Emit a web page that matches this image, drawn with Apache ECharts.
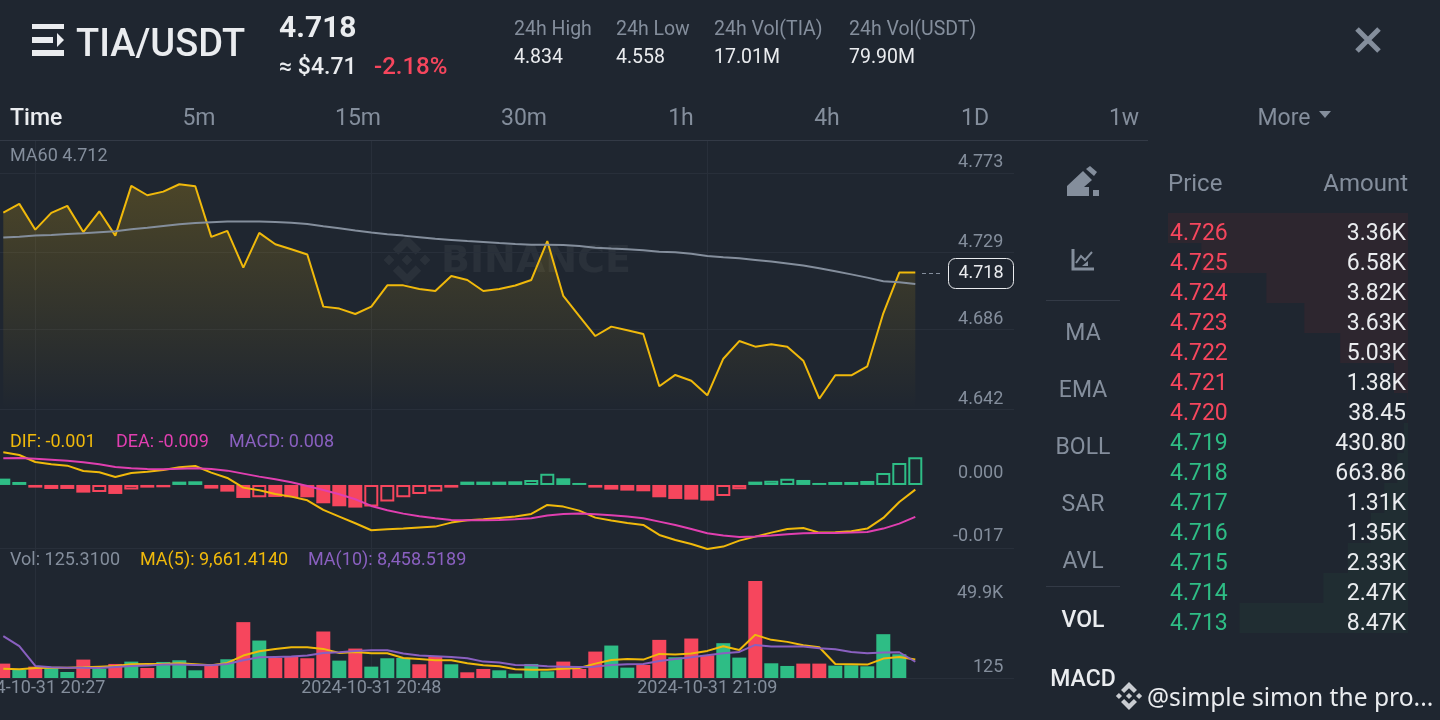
<!DOCTYPE html>
<html>
<head>
<meta charset="utf-8">
<title>TIA/USDT</title>
<script src="https://cdn.jsdelivr.net/npm/echarts@6/dist/echarts.min.js"></script>
<style>
html, body { margin: 0; padding: 0; background: #1f2630; overflow: hidden; }
#page { position: relative; width: 1440px; height: 720px; overflow: hidden; font-family: Roboto, sans-serif; }
#chart { position: absolute; left: 0; top: 0; width: 1440px; height: 720px; }
#icons { position: absolute; left: 0; top: 0; }
.t { position: absolute; white-space: nowrap; line-height: 1; transform: translateY(-50%); }
</style>
</head>
<body>
<div id="page">
  <div id="chart"></div>
  <svg id="icons" width="1440" height="720">
    <g fill="#eaecef">
      <rect x="32" y="24" width="32" height="5"/>
      <rect x="32" y="37" width="21" height="6"/>
      <polygon points="57,33 64,40 57,47"/>
      <rect x="32" y="50" width="32" height="6"/>
    </g>
    <path d="M1357,29 L1379,51 M1379,29 L1357,51" stroke="#848e9c" stroke-width="5"/>
    <polygon points="1319,111 1331,111 1325,118" fill="#848e9c"/>
    <g fill="#848e9c">
      <polygon points="1067,196 1067,186 1083,171 1092,180 1084,187 1089,187 1089,196"/>
      <polygon points="1086,169 1090,166 1097,172 1094,176"/>
      <rect x="1093" y="190" width="6" height="6"/>
    </g>
    <g fill="none" stroke="#848e9c">
      <path d="M1073,249 V269 H1094" stroke-width="3"/>
      <path d="M1076,263 L1081,256 L1085,260 L1092,252" stroke-width="2"/>
    </g>
    <polygon points="1082,266 1088,261 1088,266" fill="#848e9c"/>
    <g stroke="#333a46" stroke-width="1">
      <line x1="0" y1="140.5" x2="1148" y2="140.5"/>
      <line x1="1046" y1="300.5" x2="1120" y2="300.5"/>
      <line x1="1046" y1="586.5" x2="1120" y2="586.5"/>
    </g>
  </svg>
</div>
<script>
var priceLine = [4.7510, 4.7558, 4.7415, 4.7508, 4.7547, 4.7402, 4.7517, 4.7382, 4.7658, 4.7606, 4.7626, 4.7667, 4.7656, 4.7375, 4.7408, 4.7204, 4.7397, 4.7334, 4.7306, 4.7277, 4.6988, 4.6977, 4.6947, 4.6988, 4.7106, 4.7106, 4.7086, 4.7075, 4.7158, 4.7136, 4.7075, 4.7086, 4.7105, 4.7136, 4.7352, 4.7047, 4.6936, 4.6825, 4.6877, 4.6857, 4.6836, 4.6546, 4.6609, 4.6577, 4.6496, 4.6699, 4.6797, 4.6766, 4.6779, 4.6766, 4.6688, 4.6477, 4.6607, 4.6607, 4.6657, 4.6951, 4.7177, 4.7177];
var ma60 = [4.7371, 4.7376, 4.7382, 4.7386, 4.7391, 4.7395, 4.7401, 4.7406, 4.7417, 4.7426, 4.7436, 4.7445, 4.7452, 4.7456, 4.7460, 4.7460, 4.7460, 4.7458, 4.7454, 4.7447, 4.7434, 4.7423, 4.7410, 4.7399, 4.7389, 4.7382, 4.7373, 4.7364, 4.7358, 4.7352, 4.7347, 4.7341, 4.7336, 4.7332, 4.7332, 4.7330, 4.7325, 4.7315, 4.7310, 4.7306, 4.7301, 4.7293, 4.7290, 4.7282, 4.7269, 4.7262, 4.7256, 4.7247, 4.7238, 4.7227, 4.7216, 4.7201, 4.7184, 4.7167, 4.7149, 4.7129, 4.7123, 4.7114];
var dif = [0.00882, 0.00810, 0.00621, 0.00558, 0.00522, 0.00378, 0.00342, 0.00216, 0.00324, 0.00360, 0.00405, 0.00477, 0.00513, 0.00333, 0.00189, -0.00072, -0.00144, -0.00243, -0.00315, -0.00414, -0.00675, -0.00855, -0.01035, -0.01224, -0.01197, -0.01179, -0.01152, -0.01125, -0.01017, -0.00954, -0.00927, -0.00891, -0.00855, -0.00783, -0.00540, -0.00585, -0.00693, -0.00882, -0.00963, -0.01026, -0.01080, -0.01350, -0.01485, -0.01593, -0.01728, -0.01665, -0.01503, -0.01395, -0.01287, -0.01188, -0.01161, -0.01287, -0.01278, -0.01251, -0.01179, -0.00891, -0.00459, -0.00126];
var dea = [0.00720, 0.00729, 0.00711, 0.00684, 0.00657, 0.00612, 0.00558, 0.00486, 0.00450, 0.00432, 0.00423, 0.00441, 0.00450, 0.00432, 0.00387, 0.00306, 0.00225, 0.00153, 0.00072, -0.00027, -0.00135, -0.00252, -0.00387, -0.00567, -0.00684, -0.00774, -0.00846, -0.00900, -0.00945, -0.00954, -0.00954, -0.00945, -0.00927, -0.00900, -0.00828, -0.00783, -0.00774, -0.00792, -0.00819, -0.00855, -0.00900, -0.00990, -0.01080, -0.01188, -0.01305, -0.01368, -0.01404, -0.01395, -0.01368, -0.01332, -0.01305, -0.01296, -0.01296, -0.01287, -0.01269, -0.01179, -0.01044, -0.00864];
var macdHist = [0.00171, 0.00081, -0.00072, -0.00108, -0.00108, -0.00207, -0.00189, -0.00243, -0.00126, -0.00072, -0.00063, 0.00090, 0.00099, -0.00099, -0.00180, -0.00351, -0.00333, -0.00324, -0.00333, -0.00333, -0.00495, -0.00576, -0.00612, -0.00585, -0.00450, -0.00333, -0.00243, -0.00180, -0.00072, 0.00090, 0.00090, 0.00090, 0.00099, 0.00135, 0.00306, 0.00180, 0.00054, -0.00072, -0.00126, -0.00153, -0.00171, -0.00333, -0.00378, -0.00396, -0.00423, -0.00297, -0.00117, 0.00090, 0.00117, 0.00171, 0.00135, 0.00054, 0.00081, 0.00081, 0.00108, 0.00324, 0.00594, 0.00747];
var macdHollow = [6, 8, 16, 23, 24, 25, 26, 27, 32, 33, 34, 45, 46, 48, 49, 54, 55, 56, 57];
var volume = [7504, 4415, 5959, 5273, 3214, 9563, 4930, 7332, 8533, 5273, 8362, 9220, 4072, 6646, 9735, 28782, 19344, 10421, 10936, 10249, 23977, 9048, 15226, 5959, 10249, 10421, 7161, 10936, 7161, 3042, 4758, 4072, 2356, 7332, 3557, 8533, 4758, 13681, 16770, 5445, 6817, 19687, 10764, 20374, 11794, 17971, 10593, 49900, 7675, 6303, 7504, 7504, 6474, 6646, 6131, 22605, 12309, 125.31];
var volDown = [0, 2, 5, 7, 9, 13, 15, 17, 18, 19, 20, 22, 26, 27, 29, 30, 35, 36, 37, 40, 41, 43, 44, 47, 50, 51, 57];
var volMa5 = [4930, 4587, 5273, 5445, 5445, 5616, 5959, 6303, 7161, 7332, 7332, 7675, 7161, 6646, 7847, 11622, 13853, 15054, 15912, 15912, 15054, 12995, 13510, 12823, 12823, 10421, 9906, 9220, 9220, 7675, 6646, 6131, 4587, 4415, 4415, 4930, 5273, 7504, 9391, 9906, 9563, 12480, 12137, 12652, 14025, 16427, 14539, 22261, 19687, 18658, 16942, 15912, 7332, 7161, 6989, 10078, 10936, 9661.41];
var volMa10 = [21575, 16427, 6303, 5616, 5445, 5445, 5273, 5788, 6303, 6474, 6989, 6989, 6817, 6646, 7332, 9220, 10764, 10936, 11107, 11622, 12995, 13338, 14025, 14368, 14368, 12652, 11622, 11279, 10936, 10249, 8533, 8019, 6817, 6646, 6131, 5959, 5788, 5959, 6817, 7161, 7332, 8876, 9906, 10764, 11794, 12823, 13510, 17113, 16255, 16255, 16255, 15397, 14882, 13510, 12823, 13167, 13338, 8458.52];
var priceTicks = [4.642, 4.686, 4.729, 4.773];
var macdTicks = [-0.017, 0];
var macdLines = [-0.017];
var volTickLow = [125];
var volTickHigh = [49900];
var timeTicks = ['2024-10-31 20:27', '2024-10-31 20:48', '2024-10-31 21:09'];

var bookPrices = ['4.726', '4.725', '4.724', '4.723', '4.722', '4.721', '4.720', '4.719', '4.718', '4.717', '4.716', '4.715', '4.714', '4.713'];
var bookAmounts = ['3.36K', '6.58K', '3.82K', '3.63K', '5.03K', '1.38K', '38.45', '430.80', '663.86', '1.31K', '1.35K', '2.33K', '2.47K', '8.47K'];
var bookDepth = [24238, 20878, 14298, 10478, 6848, 1418, 38, 431, 1095, 2404, 3754, 6084, 8554, 17024];
var askRows = 7;

var BG = '#1f2630', GRID = '#282f3a', GREY = '#848e9c', WHITE = '#eaecef';
var RED = '#f6465d', GREEN = '#2ebd85', YELLOW = '#f0b90b', PINK = '#e03fb0', PURPLE = '#8a60c0';

// one minute per bar, 64 slots so the plot runs on past the last bar
var times = [];
for (var i = 0; i < 64; i++) {
    var m = 25 + i;
    times.push('2024-10-31 ' + (20 + Math.floor(m / 60)) + ':' + ('0' + (m % 60)).slice(-2));
}
function isTimeTick(index, value) {
    return timeTicks.indexOf(value) >= 0;
}

// text around the chart: text, x, y, size, colour, weight, align
var texts = [
    ['TIA/USDT', 76, 43, 38, WHITE, 500],
    ['4.718', 279, 27, 30, WHITE, 700],
    ['≈ $4.71', 279, 66, 23, WHITE, 500],
    ['-2.18%', 374, 66, 24, RED, 500],
    ['24h High', 514, 29, 19.5, GREY], ['4.834', 514, 57, 19.5, WHITE],
    ['24h Low', 616, 29, 19.5, GREY], ['4.558', 616, 57, 19.5, WHITE],
    ['24h Vol(TIA)', 714, 29, 19.5, GREY], ['17.01M', 714, 57, 19.5, WHITE],
    ['24h Vol(USDT)', 849, 29, 19.5, GREY], ['79.90M', 849, 57, 19.5, WHITE],
    ['Time', 10, 117, 23, WHITE, 500],
    ['5m', 199, 117, 23, GREY, 400, 'c'], ['15m', 358, 117, 23, GREY, 400, 'c'],
    ['30m', 524, 117, 23, GREY, 400, 'c'], ['1h', 681, 117, 23, GREY, 400, 'c'],
    ['4h', 827, 117, 23, GREY, 400, 'c'], ['1D', 975, 117, 23, GREY, 400, 'c'],
    ['1w', 1124, 117, 23, GREY, 400, 'c'], ['More', 1284, 117, 23, GREY, 400, 'c'],
    ['MA60 4.712', 10, 155, 18, GREY],
    ['DIF: -0.001', 10, 441, 18, YELLOW],
    ['DEA: -0.009', 116, 441, 18, PINK],
    ['MACD: 0.008', 229, 441, 18, PURPLE],
    ['Vol: 125.3100', 10, 559, 18, GREY],
    ['MA(5): 9,661.4140', 140, 559, 18, YELLOW],
    ['MA(10): 8,458.5189', 308, 559, 18, PURPLE],
    ['MA', 1083, 332, 23, GREY, 400, 'c'], ['EMA', 1083, 389, 23, GREY, 400, 'c'],
    ['BOLL', 1083, 446, 23, GREY, 400, 'c'], ['SAR', 1083, 503, 23, GREY, 400, 'c'],
    ['AVL', 1083, 560, 23, GREY, 400, 'c'], ['VOL', 1083, 619, 23, WHITE, 500, 'c'],
    ['MACD', 1083, 678, 23, WHITE, 500, 'c'],
    ['Price', 1168, 183, 24, GREY],
    ['Amount', 1408, 183, 24, GREY, 400, 'r'],
    ['@simple simon the pro...', 1147, 697, 24.6, WHITE, 400, 'l', 'Noto Sans']
];
var page = document.getElementById('page');
texts.forEach(function (t) {
    var d = document.createElement('div');
    d.className = 't';
    d.textContent = t[0];
    d.style.left = t[1] + 'px';
    d.style.top = t[2] + 'px';
    d.style.fontSize = t[3] + 'px';
    d.style.color = t[4];
    d.style.fontWeight = t[5] || 400;
    if (t[6] === 'c') d.style.transform = 'translate(-50%,-50%)';
    if (t[6] === 'r') d.style.transform = 'translate(-100%,-50%)';
    if (t[7]) d.style.fontFamily = t[7];
    page.appendChild(d);
});

function logo(cx, cy, r, color, z) {
    var parts = [
        [[0, -1], [.57, -.43], [.35, -.21], [0, -.56], [-.35, -.21], [-.57, -.43]],
        [[0, 1], [.57, .43], [.35, .21], [0, .56], [-.35, .21], [-.57, .43]],
        [[0, -.22], [.22, 0], [0, .22], [-.22, 0]],
        [[-.72, -.22], [-.5, 0], [-.72, .22], [-.94, 0]],
        [[.72, -.22], [.94, 0], [.72, .22], [.5, 0]]
    ];
    return parts.map(function (p) {
        return {
            type: 'polygon', z: z, silent: true,
            shape: { points: p.map(function (q) { return [cx + q[0] * r, cy + q[1] * r]; }) },
            style: { fill: color }
        };
    });
}

var axisText = { color: GREY, fontSize: 18, fontFamily: 'Roboto' };

function priceAxisLabel(ticks, fmt, align, pad) {
    return Object.assign({
        inside: true, margin: 16, customValues: ticks, formatter: fmt,
        verticalAlign: align, padding: pad
    }, axisText);
}
function xAxisFor(gridIndex, showLabel) {
    return {
        type: 'category', gridIndex: gridIndex, data: times,
        axisLine: { show: false, onZero: false },
        axisTick: { show: false },
        axisLabel: Object.assign({ show: showLabel, interval: isTimeTick, margin: 1, hideOverlap: false }, axisText),
        splitLine: { show: true, interval: isTimeTick, alignWithLabel: true, lineStyle: { color: GRID } }
    };
}
function lineSeries(name, x, data, color) {
    return {
        name: name, type: 'line', xAxisIndex: x, yAxisIndex: x, data: data, showSymbol: false,
        lineStyle: { color: color, width: 2 }, itemStyle: { color: color }
    };
}

var option = {
    animation: false,
    backgroundColor: BG,
    grid: [
        { left: -4.7, width: 1024, top: 141, height: 268, outerBoundsMode: 'none' },
        { left: -4.7, width: 1024, top: 410, height: 139, outerBoundsMode: 'none' },
        { left: -4.7, width: 1024, top: 549, height: 129, outerBoundsMode: 'none' },
        { left: 1168, width: 240, top: 213, height: 420, outerBoundsMode: 'none' },
        // book text sits a little below its row, so it has its own grid
        { left: 1168, width: 240, top: 219, height: 420, outerBoundsMode: 'none' }
    ],
    xAxis: [
        xAxisFor(0, false), xAxisFor(1, false), xAxisFor(2, true),
        { type: 'value', gridIndex: 3, inverse: true, min: 0, max: 24238, show: false },
        { type: 'value', gridIndex: 4, min: 0, max: 1, show: false }
    ],
    yAxis: [
        {
            type: 'value', gridIndex: 0, position: 'right', min: 4.642, max: 4.7907, scale: true,
            axisLine: { show: false }, axisTick: { show: false, customValues: priceTicks },
            axisLabel: priceAxisLabel(priceTicks, function (v) { return v.toFixed(3); }, 'bottom', [0, 0, 1, 0]),
            splitLine: { lineStyle: { color: GRID } }
        },
        {
            type: 'value', gridIndex: 1, position: 'right', min: -0.0173, max: 0.02025,
            axisLine: { show: false }, axisTick: { show: false, customValues: macdLines },
            axisLabel: priceAxisLabel(macdTicks, function (v) { return v.toFixed(3); }, 'bottom', [0, 0, 2, 0]),
            splitLine: { lineStyle: { color: GRID } }
        },
        {
            type: 'value', gridIndex: 2, position: 'right', min: 125, max: 66300,
            axisLine: { show: false }, axisTick: { show: false, customValues: volTickLow },
            axisLabel: priceAxisLabel(volTickLow, function (v) { return '' + v; }, 'bottom', [0, 0, 2, 0]),
            splitLine: { lineStyle: { color: GRID } }
        },
        {
            type: 'value', gridIndex: 2, position: 'right', min: 125, max: 66300,
            axisLine: { show: false }, axisTick: { show: false, customValues: volTickHigh },
            axisLabel: priceAxisLabel(volTickHigh, function (v) { return (v / 1000).toFixed(1) + 'K'; }, 'top', [4, 0, 0, 0]),
            splitLine: { show: false }
        },
        {
            type: 'category', gridIndex: 3, inverse: true, data: bookPrices, show: false
        },
        {
            type: 'category', gridIndex: 4, inverse: true, position: 'left', data: bookPrices, z: 5,
            axisLine: { show: false, onZero: false }, axisTick: { show: false },
            axisLabel: {
                inside: true, margin: 2, fontSize: 23, fontFamily: 'Roboto', interval: 0,
                color: function (v, i) { return i < askRows ? RED : GREEN; }
            }
        },
        {
            type: 'category', gridIndex: 4, inverse: true, position: 'right', data: bookAmounts, z: 5,
            axisLine: { show: false, onZero: false }, axisTick: { show: false },
            axisLabel: { inside: true, margin: 2, fontSize: 23, fontFamily: 'Roboto', color: WHITE, interval: 0 }
        }
    ],
    series: [
        {
            name: 'Price', type: 'line', xAxisIndex: 0, yAxisIndex: 0, data: priceLine, showSymbol: false,
            lineStyle: { color: YELLOW, width: 2 }, itemStyle: { color: YELLOW },
            areaStyle: {
                color: new echarts.graphic.LinearGradient(0, 0, 0, 1, [
                    { offset: 0, color: 'rgba(240,185,11,0.3)' },
                    { offset: 1, color: 'rgba(240,185,11,0)' }
                ])
            }
        },
        lineSeries('MA60', 0, ma60, GREY),
        {
            name: 'MACD', type: 'bar', xAxisIndex: 1, yAxisIndex: 1, barWidth: 14,
            data: macdHist.map(function (v, i) {
                var c = v >= 0 ? GREEN : RED;
                var hollow = macdHollow.indexOf(i) >= 0;
                return {
                    value: v,
                    itemStyle: hollow
                        ? { color: BG, borderColor: c, borderWidth: 2 }
                        : { color: c }
                };
            })
        },
        lineSeries('DIF', 1, dif, YELLOW),
        lineSeries('DEA', 1, dea, PINK),
        {
            name: 'Vol', type: 'bar', xAxisIndex: 2, yAxisIndex: 2, barWidth: 14,
            data: volume.map(function (v, i) {
                return { value: v, itemStyle: { color: volDown.indexOf(i) >= 0 ? RED : GREEN } };
            })
        },
        lineSeries('MA5', 2, volMa5, YELLOW),
        lineSeries('MA10', 2, volMa10, PURPLE),
        {
            name: 'Book', type: 'bar', xAxisIndex: 3, yAxisIndex: 4, barWidth: 30, silent: true,
            data: bookDepth.map(function (v, i) {
                return { value: v, itemStyle: { color: i < askRows ? '#2d262f' : '#202d32' } };
            })
        }
    ]
};

var chart = echarts.init(document.getElementById('chart'));
chart.setOption(option);

// last price marker sits on the axis scale
var lastPrice = priceLine[priceLine.length - 1];
var lastY = Math.round(chart.convertToPixel({ yAxisIndex: 0 }, lastPrice)) + 0.5;
chart.setOption({
    graphic: {
        elements: logo(407, 260, 25, 'rgba(255,255,255,0.05)', -1)
            .concat(logo(1129, 696, 14, '#c9ccd1', 10))
            .concat([{
                type: 'text', z: -1, silent: true, x: 441, y: 243,
                style: { text: 'BINANCE', fill: 'rgba(255,255,255,0.05)', font: 'bold 38px "DejaVu Sans"' }
            }, {
                // plot ends a little before the last slot
                type: 'rect', z: 5, silent: true,
                shape: { x: 1014, y: 141, width: 8, height: 540 },
                style: { fill: BG }
            }, {
                type: 'line', z: 10, silent: true,
                shape: { x1: 922, y1: lastY, x2: 943, y2: lastY },
                style: { stroke: GREY, lineWidth: 1, lineDash: [4, 3] }
            }, {
                type: 'rect', z: 10, silent: true,
                shape: { x: 948.5, y: lastY - 15, width: 65, height: 30, r: 7 },
                style: { fill: BG, stroke: WHITE, lineWidth: 1 }
            }, {
                type: 'text', z: 11, silent: true, x: 981, y: lastY,
                style: { text: lastPrice.toFixed(3), fill: WHITE, font: '18px Roboto', align: 'center', verticalAlign: 'middle' }
            }])
    }
});
</script>
</body>
</html>
